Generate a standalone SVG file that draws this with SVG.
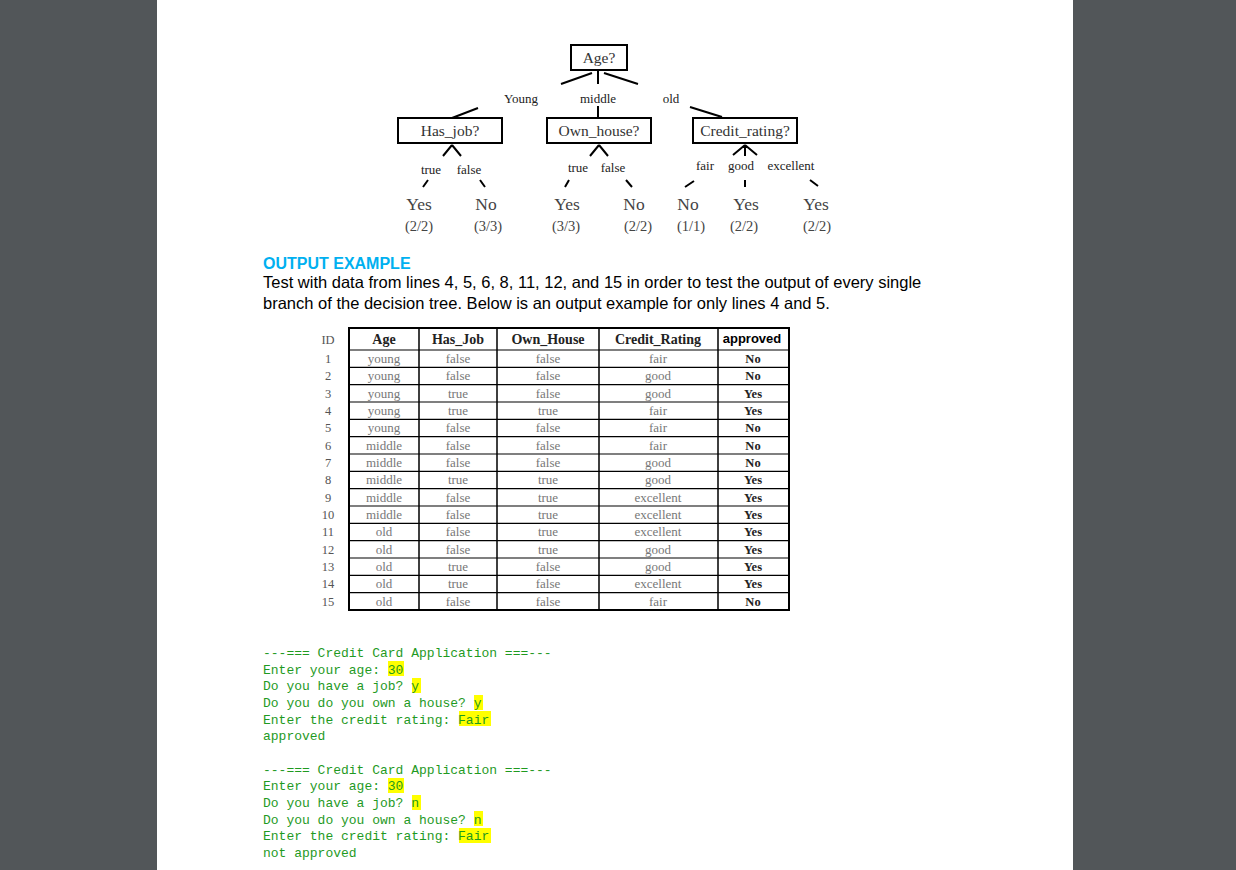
<svg xmlns="http://www.w3.org/2000/svg" width="1236" height="870" viewBox="0 0 1236 870">
<style>
.t{font-family:"Liberation Serif",serif;font-size:15.5px;fill:#333;text-anchor:middle}
.s{font-family:"Liberation Serif",serif;font-size:13px;fill:#222;text-anchor:middle}
.lf{font-family:"Liberation Serif",serif;font-size:17.5px;fill:#444;text-anchor:middle}
.fr{font-family:"Liberation Serif",serif;font-size:14.5px;fill:#444;text-anchor:middle}
.box{fill:#fff;stroke:#000;stroke-width:2}
.ln{stroke:#000;stroke-width:2;fill:none}
.h{font-family:"Liberation Serif",serif;font-size:14px;font-weight:bold;fill:#222;text-anchor:middle}
.d{font-family:"Liberation Serif",serif;font-size:13px;fill:#777;text-anchor:middle}
.a{font-family:"Liberation Serif",serif;font-size:12.5px;font-weight:bold;fill:#222;text-anchor:middle}
.id{font-family:"Liberation Serif",serif;font-size:12.5px;fill:#555;text-anchor:middle}
.c{font-family:"Liberation Mono",monospace;font-size:13px;fill:#1f9a1f}
.hl{fill:#ffff00}
.p{font-family:"Liberation Sans",sans-serif;font-size:16.5px;fill:#000}
</style>
<rect width="1236" height="870" fill="#525659"/>
<rect x="157" y="0" width="916" height="870" fill="#fff"/>
<g id="connectors">
<path class="ln" d="M598 70V84M592 73L561 84M604 73L638 84"/>
<path class="ln" d="M478 108L452 118M598 106V117M690 107L722 117"/>
<path class="ln" d="M452 145L443 156M452 145L461 156M599 145L590 156M599 145L608 156M745 145L733 155M745 145V156M745 145L757 155"/>
<path class="ln" d="M428 180L423 187M480 180L485 187M569 180L565 187M626 180L632 187M694 181L685 187M745 180V187M810 180L818 186"/>
</g>
<g id="age"><rect class="box" x="571" y="45" width="56" height="25"/><text class="t" x="599" y="63">Age?</text></g>
<g id="hasjob"><rect class="box" x="398" y="118" width="104" height="25"/><text class="t" x="450" y="136">Has_job?</text></g>
<g id="ownhouse"><rect class="box" x="547" y="118" width="104" height="25"/><text class="t" x="599" y="136">Own_house?</text></g>
<g id="credit"><rect class="box" x="693" y="118" width="104" height="25"/><text class="t" x="745" y="136">Credit_rating?</text></g>
<g id="labels">
<text class="s" x="521" y="103">Young</text><text class="s" x="598" y="103">middle</text><text class="s" x="671" y="103">old</text>
<text class="s" x="431" y="174">true</text><text class="s" x="469" y="174">false</text>
<text class="s" x="578" y="172">true</text><text class="s" x="613" y="172">false</text>
<text class="s" x="705" y="170">fair</text><text class="s" x="741" y="170">good</text><text class="s" x="791" y="170">excellent</text>
</g>
<g id="leaves">
<text class="lf" x="419" y="210">Yes</text><text class="fr" x="419" y="231">(2/2)</text>
<text class="lf" x="486" y="210">No</text><text class="fr" x="488" y="231">(3/3)</text>
<text class="lf" x="567" y="210">Yes</text><text class="fr" x="566" y="231">(3/3)</text>
<text class="lf" x="634" y="210">No</text><text class="fr" x="638" y="231">(2/2)</text>
<text class="lf" x="688" y="210">No</text><text class="fr" x="691" y="231">(1/1)</text>
<text class="lf" x="746" y="210">Yes</text><text class="fr" x="744" y="231">(2/2)</text>
<text class="lf" x="816" y="210">Yes</text><text class="fr" x="817" y="231">(2/2)</text>
</g>
<text x="263" y="269" font-family="Liberation Sans,sans-serif" font-size="16" font-weight="bold" fill="#00b0f0">OUTPUT EXAMPLE</text>
<text class="p" x="263" y="288">Test with data from lines 4, 5, 6, 8, 11, 12, and 15 in order to test the output of every single</text>
<text class="p" x="263" y="309">branch of the decision tree. Below is an output example for only lines 4 and 5.</text>
<g id="table">
<rect x="349" y="328" width="440" height="282" fill="#fff" stroke="#000" stroke-width="2"/>
<path stroke="#000" stroke-width="1.5" d="M419 328V610M497 328V610M599 328V610M718 328V610"/>
<path stroke="#000" stroke-width="1.2" d="M349 350H789M349 367.3H789M349 384.7H789M349 402H789M349 419.3H789M349 436.7H789M349 454H789M349 471.3H789M349 488.7H789M349 506H789M349 523.3H789M349 540.7H789M349 558H789M349 575.3H789M349 592.7H789"/>
<text class="id" x="328" y="344">ID</text>
<text class="h" x="384" y="344">Age</text><text class="h" x="458" y="344">Has_Job</text><text class="h" x="548" y="344">Own_House</text><text class="h" x="658" y="344">Credit_Rating</text>
<text x="752" y="343" font-family="Liberation Sans,sans-serif" font-size="13" font-weight="bold" fill="#000" text-anchor="middle">approved</text>
<g class="rows">
<text class="id" x="328" y="363">1</text><text class="d" x="384" y="363">young</text><text class="d" x="458" y="363">false</text><text class="d" x="548" y="363">false</text><text class="d" x="658" y="363">fair</text><text class="a" x="753" y="363">No</text>
<text class="id" x="328" y="380">2</text><text class="d" x="384" y="380">young</text><text class="d" x="458" y="380">false</text><text class="d" x="548" y="380">false</text><text class="d" x="658" y="380">good</text><text class="a" x="753" y="380">No</text>
<text class="id" x="328" y="398">3</text><text class="d" x="384" y="398">young</text><text class="d" x="458" y="398">true</text><text class="d" x="548" y="398">false</text><text class="d" x="658" y="398">good</text><text class="a" x="753" y="398">Yes</text>
<text class="id" x="328" y="415">4</text><text class="d" x="384" y="415">young</text><text class="d" x="458" y="415">true</text><text class="d" x="548" y="415">true</text><text class="d" x="658" y="415">fair</text><text class="a" x="753" y="415">Yes</text>
<text class="id" x="328" y="432">5</text><text class="d" x="384" y="432">young</text><text class="d" x="458" y="432">false</text><text class="d" x="548" y="432">false</text><text class="d" x="658" y="432">fair</text><text class="a" x="753" y="432">No</text>
<text class="id" x="328" y="450">6</text><text class="d" x="384" y="450">middle</text><text class="d" x="458" y="450">false</text><text class="d" x="548" y="450">false</text><text class="d" x="658" y="450">fair</text><text class="a" x="753" y="450">No</text>
<text class="id" x="328" y="467">7</text><text class="d" x="384" y="467">middle</text><text class="d" x="458" y="467">false</text><text class="d" x="548" y="467">false</text><text class="d" x="658" y="467">good</text><text class="a" x="753" y="467">No</text>
<text class="id" x="328" y="484">8</text><text class="d" x="384" y="484">middle</text><text class="d" x="458" y="484">true</text><text class="d" x="548" y="484">true</text><text class="d" x="658" y="484">good</text><text class="a" x="753" y="484">Yes</text>
<text class="id" x="328" y="502">9</text><text class="d" x="384" y="502">middle</text><text class="d" x="458" y="502">false</text><text class="d" x="548" y="502">true</text><text class="d" x="658" y="502">excellent</text><text class="a" x="753" y="502">Yes</text>
<text class="id" x="328" y="519">10</text><text class="d" x="384" y="519">middle</text><text class="d" x="458" y="519">false</text><text class="d" x="548" y="519">true</text><text class="d" x="658" y="519">excellent</text><text class="a" x="753" y="519">Yes</text>
<text class="id" x="328" y="536">11</text><text class="d" x="384" y="536">old</text><text class="d" x="458" y="536">false</text><text class="d" x="548" y="536">true</text><text class="d" x="658" y="536">excellent</text><text class="a" x="753" y="536">Yes</text>
<text class="id" x="328" y="554">12</text><text class="d" x="384" y="554">old</text><text class="d" x="458" y="554">false</text><text class="d" x="548" y="554">true</text><text class="d" x="658" y="554">good</text><text class="a" x="753" y="554">Yes</text>
<text class="id" x="328" y="571">13</text><text class="d" x="384" y="571">old</text><text class="d" x="458" y="571">true</text><text class="d" x="548" y="571">false</text><text class="d" x="658" y="571">good</text><text class="a" x="753" y="571">Yes</text>
<text class="id" x="328" y="588">14</text><text class="d" x="384" y="588">old</text><text class="d" x="458" y="588">true</text><text class="d" x="548" y="588">false</text><text class="d" x="658" y="588">excellent</text><text class="a" x="753" y="588">Yes</text>
<text class="id" x="328" y="606">15</text><text class="d" x="384" y="606">old</text><text class="d" x="458" y="606">false</text><text class="d" x="548" y="606">false</text><text class="d" x="658" y="606">fair</text><text class="a" x="753" y="606">No</text>
</g>
</g>
<g id="console">
<rect class="hl" x="388" y="661" width="16" height="15"/>
<rect class="hl" x="412" y="678" width="9" height="15"/>
<rect class="hl" x="474" y="695" width="9" height="15"/>
<rect class="hl" x="459" y="711" width="32" height="15"/>
<rect class="hl" x="388" y="778" width="16" height="15"/>
<rect class="hl" x="412" y="795" width="9" height="15"/>
<rect class="hl" x="474" y="811" width="9" height="15"/>
<rect class="hl" x="459" y="828" width="32" height="15"/>
<text class="c" x="263" y="657">---=== Credit Card Application ===---</text>
<text class="c" x="263" y="674">Enter your age: 30</text>
<text class="c" x="263" y="690">Do you have a job? y</text>
<text class="c" x="263" y="707">Do you do you own a house? y</text>
<text class="c" x="263" y="724">Enter the credit rating: Fair</text>
<text class="c" x="263" y="740">approved</text>
<text class="c" x="263" y="774">---=== Credit Card Application ===---</text>
<text class="c" x="263" y="790">Enter your age: 30</text>
<text class="c" x="263" y="807">Do you have a job? n</text>
<text class="c" x="263" y="824">Do you do you own a house? n</text>
<text class="c" x="263" y="840">Enter the credit rating: Fair</text>
<text class="c" x="263" y="857">not approved</text>
</g>
</svg>
